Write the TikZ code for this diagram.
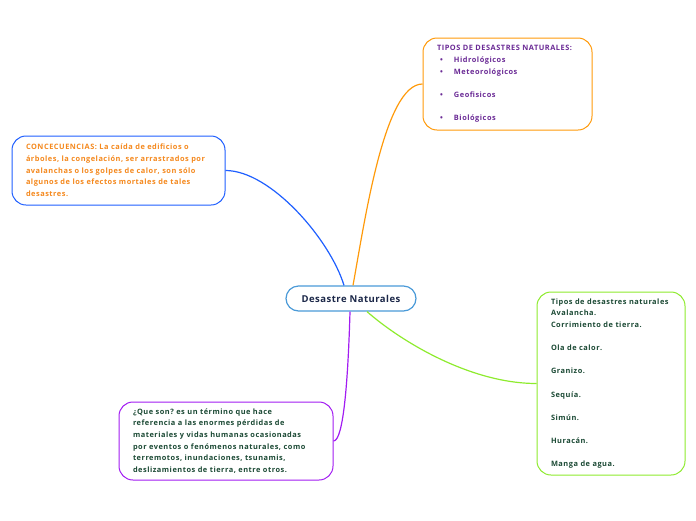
\documentclass[tikz,border=0pt]{standalone}
\usepackage{fontspec}
\setmainfont{Open Sans}
\usetikzlibrary{positioning, calc}

\definecolor{bluebranch}{HTML}{1F5FFF}
\definecolor{orangebranch}{HTML}{FF9A0A}
\definecolor{purplebranch}{HTML}{A21CF2}
\definecolor{greenbranch}{HTML}{8EEB2E}
\definecolor{centerline}{HTML}{4A9AD8}
\definecolor{navytext}{HTML}{1B2748}
\definecolor{purpletext}{HTML}{6B2B96}
\definecolor{orangetext}{HTML}{F5891E}
\definecolor{greentext}{HTML}{1C4A35}

\begin{document}
\begin{tikzpicture}[
    x=1pt, y=-1pt,
    % Styles
    topic/.style={ % Subtopic boxes
        rectangle,
        rounded corners=14pt,
        draw,
        line width=1pt,
        fill=white,
        align=left,
        inner xsep=14pt,
        font=\fontsize{7.4}{11.7}\selectfont\bfseries\addfontfeatures{LetterSpace=7}
    },
    central/.style={ % Main topic
        rectangle,
        rounded corners=12.5pt,
        draw=centerline,
        line width=1.2pt,
        fill=white,
        minimum width=130pt,
        minimum height=25pt,
        text=navytext,
        font=\fontsize{9.5}{11}\selectfont\bfseries\addfontfeatures{LetterSpace=5}
    },
    branch/.style={ % Curved connectors
        line width=1.2pt
    }
]

    \useasboundingbox (0,0) rectangle (696,520);

    % Main topic
    \node [central] (center) at (351,298.5) {Desastre Naturales};

    % Subtopics
    \node [topic, draw=orangebranch, text=purpletext, minimum width=169pt, minimum height=92pt, text width=141pt] (tipos) at (507.5,84) {%
        TIPOS DE DESASTRES NATURALES:\\
        \hspace{3pt}\makebox[14pt][l]{•}Hidrológicos\\
        \hspace{3pt}\makebox[14pt][l]{•}Meteorológicos\\[11.7pt]
        \hspace{3pt}\makebox[14pt][l]{•}Geofisicos\\[11.7pt]
        \hspace{3pt}\makebox[14pt][l]{•}Biológicos};
    \node [topic, draw=bluebranch, text=orangetext, minimum width=213pt, minimum height=69pt, text width=185pt] (conse) at (118.5,170.5) {%
        CONCECUENCIAS: La caída de edificios o\\
        árboles, la congelación, ser arrastrados por\\
        avalanchas o los golpes de calor, son sólo\\
        algunos de los efectos mortales de tales\\
        desastres.};
    \node [topic, draw=purplebranch, text=greentext, minimum width=214pt, minimum height=78pt, text width=186pt] (queson) at (226,441) {%
        ¿Que son?\ es un término que hace\\
        referencia a las enormes pérdidas de\\
        materiales y vidas humanas ocasionadas\\
        por eventos o fenómenos naturales, como\\
        terremotos, inundaciones, tsunamis,\\
        deslizamientos de tierra, entre otros.};
    \node [topic, draw=greenbranch, text=greentext, minimum width=148pt, minimum height=183pt, text width=120pt] (clases) at (611,383.5) {%
        Tipos de desastres naturales\\
        Avalancha.\\
        Corrimiento de tierra.\\[11.5pt]
        Ola de calor.\\[11.5pt]
        Granizo.\\[11.5pt]
        Sequía.\\[11.5pt]
        Simún.\\[11.5pt]
        Huracán.\\[11.5pt]
        Manga de agua.};

    % Branches from the main topic
    \draw [branch, bluebranch] ($(center.north)+(-7,0)$) .. controls +(-14,-46) and +(45,0) .. (conse.east);
    \draw [branch, orangebranch] ($(center.north)+(2,0)$) .. controls +(12,-66) and +(-38,0) .. (tipos.west);
    \draw [branch, purplebranch] ($(center.south)+(-1,0)$) .. controls +(-2,69) and +(10,0) .. (queson.east);
    \draw [branch, greenbranch] ($(center.south)+(16,0)$) .. controls +(33,29) and +(-67,0) .. (clases.west);
\end{tikzpicture}
\end{document}
